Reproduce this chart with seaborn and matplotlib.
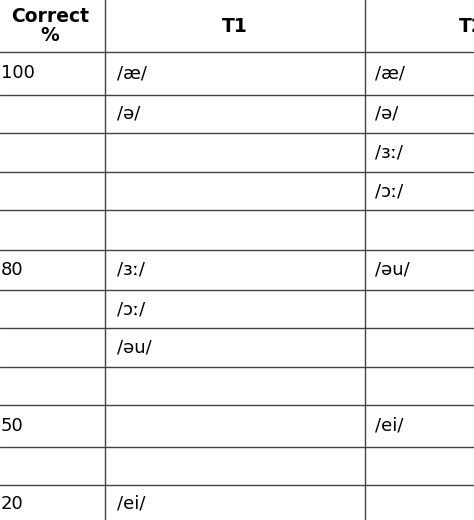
import matplotlib
matplotlib.use("Agg")
import matplotlib.pyplot as plt
import seaborn as sns

sns.set_style("white")
plt.rcParams['font.family'] = ['DejaVu Sans']

headers = ["Correct\n%", "T1", "T2"]
correct = ["100", "", "", "", "", "80", "", "", "", "50", "", "20"]
t1 = ["/æ/", "/ə/", "", "", "", "/ɜː/", "/ɔː/", "/əu/", "", "", "", "/ei/"]
t2 = ["/æ/", "/ə/", "/ɜː/", "/ɔː/", "", "/əu/", "", "", "", "/ei/", "", ""]

row_edges = [0, 52, 95, 133, 172, 210, 250, 290, 328, 367, 405, 447, 485, 523]
col_edges = [0, 105, 365, 580]
text_x = [1, 117, 375]

fig = plt.figure(figsize=(4.74, 5.2), dpi=100)
ax = fig.add_axes([0, 0, 1, 1])
ax.set_xlim(0, 474)
ax.set_ylim(520, 0)
ax.axis("off")

for y in row_edges[1:-1]:
    ax.axhline(y, color="#444444", lw=1)
for x in col_edges[1:-1]:
    ax.axvline(x, color="#444444", lw=1)

hx = [50, 235, 472]
for i, h in enumerate(headers):
    ax.text(hx[i], 26, h, ha="center", va="center", fontsize=13.5,
            fontweight="bold", linespacing=0.95, color="black")

for r in range(len(correct)):
    yc = (row_edges[r + 1] + row_edges[r + 2]) / 2
    for c, col in enumerate([correct, t1, t2]):
        if col[r]:
            ax.text(text_x[c], yc, col[r], ha="left", va="center",
                    fontsize=13, color="black")

fig.savefig("out.png", dpi=100)
